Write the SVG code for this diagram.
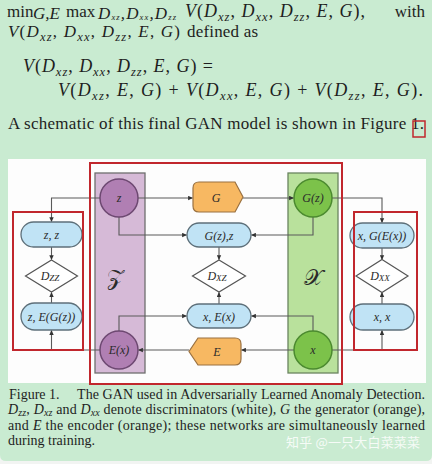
<svg xmlns="http://www.w3.org/2000/svg" width="432" height="464" viewBox="0 0 432 464">
<defs>
<style>
.t{font-family:"Liberation Serif","Times New Roman",serif;fill:#1e1e1e;font-size:17px}
.m{font-size:18px}
.c{font-family:"Liberation Serif","Times New Roman",serif;fill:#1e1e1e;font-size:14px}
.i{font-style:italic}
.s{font-style:italic;font-size:12.5px}
.cs{font-style:italic;font-size:10px}
.lab{font-family:"Liberation Serif","Times New Roman",serif;font-style:italic;fill:#2a2a2a;font-size:12px;text-anchor:middle}
.big{font-family:"DejaVu Serif","Liberation Serif",serif;fill:#2a2a2a;font-size:22px;text-anchor:middle}
.red{fill:none;stroke:#c1272d;stroke-width:2}
.pill{fill:#c0e3f5;stroke:#5d6f79;stroke-width:1.3}
.dia{fill:#ffffff;stroke:#555;stroke-width:1.2}
.org{fill:#f7b862;stroke:#9a7141;stroke-width:1.2}
.pc{fill:#b07fb3;stroke:#6d4871;stroke-width:1.5}
.gc{fill:#7cc24a;stroke:#4b8a2f;stroke-width:1.5}
.ln{fill:none;stroke:#5a5a5a;stroke-width:1.1}
</style>
<marker id="ah" viewBox="0 0 8 8" refX="7" refY="4" markerWidth="5" markerHeight="5" orient="auto" markerUnits="userSpaceOnUse">
<path d="M0,0.5 L8,4 L0,7.5 Z" fill="#333"/>
</marker>
</defs>
<rect x="0" y="0" width="432" height="464" fill="#f2f4f2"/>
<path d="M0,0 H432 V455 Q432,461 426,461 H6 Q0,461 0,455 Z" fill="#c9ebd1"/>

<!-- top text -->
<text class="t" x="7" y="17">min</text>
<text class="t" x="33" y="19" font-style="italic" font-size="11.5">G,E</text>
<text class="t" x="66" y="17">max</text>
<text class="t" x="98" y="19" font-style="italic" font-size="11.5" textLength="78" lengthAdjust="spacing">D<tspan font-size="8.5" dy="1.2">xz</tspan><tspan dy="-1.2">,D</tspan><tspan font-size="8.5" dy="1.2">xx</tspan><tspan dy="-1.2">,D</tspan><tspan font-size="8.5" dy="1.2">zz</tspan></text>
<text class="t m" x="185" y="17" textLength="180" lengthAdjust="spacing"><tspan class="i">V</tspan>(<tspan class="i">D</tspan><tspan class="s" dy="3.5">xz</tspan><tspan dy="-3.5">, </tspan><tspan class="i">D</tspan><tspan class="s" dy="3.5">xx</tspan><tspan dy="-3.5">, </tspan><tspan class="i">D</tspan><tspan class="s" dy="3.5">zz</tspan><tspan dy="-3.5">, </tspan><tspan class="i">E</tspan>, <tspan class="i">G</tspan>),</text>
<text class="t" x="425" y="17" text-anchor="end">with</text>
<text class="t" x="8" y="37" textLength="172" lengthAdjust="spacing"><tspan class="i">V</tspan>(<tspan class="i">D</tspan><tspan class="s" dy="3.5">xz</tspan><tspan dy="-3.5">, </tspan><tspan class="i">D</tspan><tspan class="s" dy="3.5">xx</tspan><tspan dy="-3.5">, </tspan><tspan class="i">D</tspan><tspan class="s" dy="3.5">zz</tspan><tspan dy="-3.5">, </tspan><tspan class="i">E</tspan>, <tspan class="i">G</tspan>)</text>
<text class="t" x="187" y="37" textLength="71" lengthAdjust="spacing">defined as</text>
<text class="t m" x="23" y="72" textLength="190" lengthAdjust="spacing"><tspan class="i">V</tspan>(<tspan class="i">D</tspan><tspan class="s" dy="3.5">xz</tspan><tspan dy="-3.5">, </tspan><tspan class="i">D</tspan><tspan class="s" dy="3.5">xx</tspan><tspan dy="-3.5">, </tspan><tspan class="i">D</tspan><tspan class="s" dy="3.5">zz</tspan><tspan dy="-3.5">, </tspan><tspan class="i">E</tspan>, <tspan class="i">G</tspan>) =</text>
<text class="t m" x="58" y="96" textLength="365" lengthAdjust="spacing"><tspan class="i">V</tspan>(<tspan class="i">D</tspan><tspan class="s" dy="3.5">xz</tspan><tspan dy="-3.5">, </tspan><tspan class="i">E</tspan>, <tspan class="i">G</tspan>) + <tspan class="i">V</tspan>(<tspan class="i">D</tspan><tspan class="s" dy="3.5">xx</tspan><tspan dy="-3.5">, </tspan><tspan class="i">E</tspan>, <tspan class="i">G</tspan>) + <tspan class="i">V</tspan>(<tspan class="i">D</tspan><tspan class="s" dy="3.5">zz</tspan><tspan dy="-3.5">, </tspan><tspan class="i">E</tspan>, <tspan class="i">G</tspan>).</text>
<text class="t" x="8" y="129" textLength="416" lengthAdjust="spacing">A schematic of this final GAN model is shown in Figure 1.</text>
<rect x="413" y="121" width="12" height="16" fill="none" stroke="#c1272d" stroke-width="1.5"/>

<!-- figure panel -->
<rect x="8" y="159" width="418" height="224" fill="#fdfdfd"/>
<rect x="95" y="173" width="50" height="200" fill="#d6bad7" stroke="#6f6f6f" stroke-width="1.3"/>
<rect x="288" y="173" width="50" height="200" fill="#b9e19c" stroke="#6a8560" stroke-width="1.3"/>
<text class="big" x="115" y="285">𝒵</text>
<text class="big" x="313" y="285">𝒳</text>

<g id="connectors">
<path class="ln" d="M100,198 H51.5 V221.5" marker-end="url(#ah)"/>
<path class="ln" d="M100,350 H51.5 V330.5" marker-end="url(#ah)"/>
<path class="ln" d="M51.5,247 V259.5" marker-end="url(#ah)"/>
<path class="ln" d="M51.5,303 V292.5" marker-end="url(#ah)"/>
<path class="ln" d="M138,198 H192.5" marker-end="url(#ah)"/>
<path class="ln" d="M243,198 H293.5" marker-end="url(#ah)"/>
<path class="ln" d="M119,217 V235 H186.5" marker-end="url(#ah)"/>
<path class="ln" d="M313,217 V235 H251.5" marker-end="url(#ah)"/>
<path class="ln" d="M219,247 V259.5" marker-end="url(#ah)"/>
<path class="ln" d="M219,304 V292.5" marker-end="url(#ah)"/>
<path class="ln" d="M119,331 V316 H186.5" marker-end="url(#ah)"/>
<path class="ln" d="M313,331 V316 H251.5" marker-end="url(#ah)"/>
<path class="ln" d="M294,350 H241.5" marker-end="url(#ah)"/>
<path class="ln" d="M189,350 H138.5" marker-end="url(#ah)"/>
<path class="ln" d="M332,198 H382 V222.5" marker-end="url(#ah)"/>
<path class="ln" d="M332,350 H382 V330.5" marker-end="url(#ah)"/>
<path class="ln" d="M382,248 V259.5" marker-end="url(#ah)"/>
<path class="ln" d="M382,304 V292.5" marker-end="url(#ah)"/>
</g>

<g id="n-z"><circle class="pc" cx="119" cy="198" r="19"/><text class="lab" x="119" y="202">z</text></g>
<g id="n-Ex"><circle class="pc" cx="119" cy="350" r="19"/><text class="lab" x="119" y="354">E(x)</text></g>
<g id="n-Gz"><circle class="gc" cx="313" cy="198" r="19"/><text class="lab" x="313" y="202">G(z)</text></g>
<g id="n-x"><circle class="gc" cx="313" cy="350" r="19"/><text class="lab" x="313" y="354">x</text></g>

<g id="n-G"><path class="org" d="M199,182 H235 L243,197 L235,212 H199 Q193,212 193,206 V188 Q193,182 199,182 Z"/><text class="lab" x="216" y="202" font-size="14">G</text></g>
<g id="n-E"><path class="org" d="M198,338 H235 Q241,338 241,344 V359 Q241,365 235,365 H198 L189,351.5 Z"/><text class="lab" x="217" y="356" font-size="14">E</text></g>

<g id="n-Gzz"><rect class="pill" x="187" y="223" width="64" height="24" rx="12"/><text class="lab" x="219" y="239.5" font-size="13">G(z),z</text></g>
<g id="n-Dxz"><path class="dia" d="M219,260 L245.5,276 L219,292 L192.5,276 Z"/><text class="lab" x="217" y="280" font-size="13">D<tspan font-size="9" dy="1">XZ</tspan></text></g>
<g id="n-xEx"><rect class="pill" x="187" y="304" width="64" height="24" rx="12"/><text class="lab" x="219" y="320.5" font-size="13">x, E(x)</text></g>

<g id="n-zz"><rect class="pill" x="21" y="222" width="61" height="25" rx="12.5"/><text class="lab" x="51.5" y="238.5" font-size="13">z, z</text></g>
<g id="n-Dzz"><path class="dia" d="M51.5,260 L77.5,276 L51.5,292 L25.5,276 Z"/><text class="lab" x="50" y="280" font-size="13">D<tspan font-size="9" dy="1">ZZ</tspan></text></g>
<g id="n-zEGz"><rect class="pill" x="21" y="303" width="61" height="27" rx="13.5"/><text class="lab" x="51.5" y="320.5" font-size="13">z, E(G(z))</text></g>

<g id="n-xGEx"><rect class="pill" x="350" y="223" width="64" height="25" rx="12.5"/><text class="lab" x="382" y="239.5" font-size="13">x, G(E(x))</text></g>
<g id="n-Dxx"><path class="dia" d="M382,259.5 L408,276 L382,292.5 L356,276 Z"/><text class="lab" x="380" y="280" font-size="13">D<tspan font-size="9" dy="1">XX</tspan></text></g>
<g id="n-xx"><rect class="pill" x="350" y="304" width="64" height="26" rx="13"/><text class="lab" x="382" y="320.5" font-size="13">x, x</text></g>

<rect class="red" x="90" y="163" width="252" height="221"/>
<rect class="red" x="13" y="212" width="70" height="138"/>
<rect class="red" x="354" y="212" width="63" height="138"/>

<!-- caption -->
<text class="c" x="9" y="399">Figure 1.</text>
<text class="c" x="77" y="399" textLength="348" lengthAdjust="spacing">The GAN used in Adversarially Learned Anomaly Detection.</text>
<text class="c" x="8" y="414" textLength="417" lengthAdjust="spacing"><tspan class="i">D</tspan><tspan class="cs" dy="2">zz</tspan><tspan dy="-2">, </tspan><tspan class="i">D</tspan><tspan class="cs" dy="2">xz</tspan><tspan dy="-2"> and </tspan><tspan class="i">D</tspan><tspan class="cs" dy="2">xx</tspan><tspan dy="-2"> denote discriminators (white), </tspan><tspan class="i">G</tspan> the generator (orange),</text>
<text class="c" x="8" y="430" textLength="417" lengthAdjust="spacing">and <tspan class="i">E</tspan> the encoder (orange); these networks are simultaneously learned</text>
<text class="c" x="8" y="445">during training.</text>
<text x="286" y="447" font-family="'Noto Sans CJK SC',sans-serif" font-size="13" fill="#ffffff" fill-opacity="0.85" textLength="134" lengthAdjust="spacing">知乎 @一只大白菜菜菜</text>
</svg>
